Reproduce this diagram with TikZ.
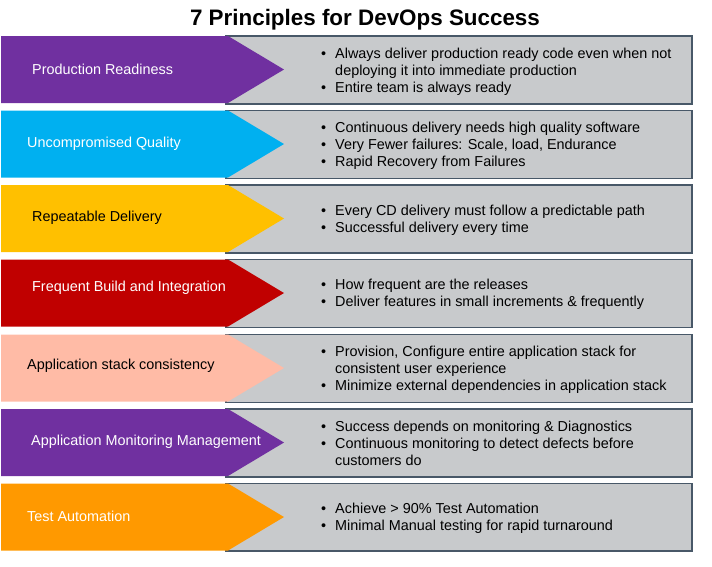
\documentclass[tikz,border=0pt]{standalone}
\usepackage{fontspec}
\setmainfont{Liberation Sans}
\definecolor{devpurple}{RGB}{112,48,160}
\definecolor{devcyan}{RGB}{0,176,240}
\definecolor{devyellow}{RGB}{255,192,0}
\definecolor{devred}{RGB}{192,0,0}
\definecolor{devsalmon}{RGB}{255,187,166}
\definecolor{devorange}{RGB}{255,153,0}
\definecolor{panelfill}{RGB}{200,202,204}
\definecolor{paneledge}{RGB}{72,88,104}
\tikzset{
  panel/.style={fill=panelfill, draw=paneledge, line width=1.3pt},
  label/.style={anchor=west, inner sep=0pt, font=\fontsize{14.4}{17}\selectfont},
  points/.style={anchor=west, inner sep=0pt, font=\fontsize{14.4}{17}\selectfont}
}
\begin{document}
\begin{tikzpicture}[x=1pt, y=-1pt]
  \useasboundingbox (0,0) rectangle (712,566);
  \node[font=\fontsize{22.4}{26}\selectfont\bfseries] (title) at (365,20) {7 Principles for DevOps Success};
  % row 1
  \draw[panel] (226,36) rectangle (692,104);
  \fill[devpurple] (1,36) -- (228,36) -- (284,69.5) -- (228,103) -- (1,103) -- cycle;
  \node[label, white] (prod) at (32,69) {Production Readiness};
  \node[points] (prodtxt) at (321,72) {\begin{tabular}{@{}l@{\hspace{9pt}}l@{}}
    \textbullet & Always deliver production ready code even when not\\
    & deploying it into immediate production\\
    \textbullet & Entire team is always ready\end{tabular}};
  % row 2
  \draw[panel] (226,110.5) rectangle (692,178.5);
  \fill[devcyan] (1,110.5) -- (228,110.5) -- (284,144) -- (228,177.5) -- (1,177.5) -- cycle;
  \node[label, white] (qual) at (27,143.5) {Uncompromised Quality};
  \node[points] (qualtxt) at (321,146) {\begin{tabular}{@{}l@{\hspace{9pt}}l@{}}
    \textbullet & Continuous delivery needs high quality software\\
    \textbullet & Very Fewer failures: Scale, load, Endurance\\
    \textbullet & Rapid Recovery from Failures\end{tabular}};
  % row 3
  \draw[panel] (226,185) rectangle (692,253);
  \fill[devyellow] (1,185) -- (228,185) -- (284,218.5) -- (228,252) -- (1,252) -- cycle;
  \node[label] (rep) at (32,218) {Repeatable Delivery};
  \node[points] (reptxt) at (321,220.5) {\begin{tabular}{@{}l@{\hspace{9pt}}l@{}}
    \textbullet & Every CD delivery must follow a predictable path\\
    \textbullet & Successful delivery every time\end{tabular}};
  % row 4
  \draw[panel] (226,259.5) rectangle (692,327.5);
  \fill[devred] (1,259.5) -- (228,259.5) -- (284,293) -- (228,326.5) -- (1,326.5) -- cycle;
  \node[label, white] (freq) at (32,287.5) {Frequent Build and Integration};
  \node[points] (freqtxt) at (321,295) {\begin{tabular}{@{}l@{\hspace{9pt}}l@{}}
    \textbullet & How frequent are the releases\\
    \textbullet & Deliver features in small increments \& frequently\end{tabular}};
  % row 5
  \draw[panel] (226,334.5) rectangle (692,402.5);
  \fill[devsalmon] (1,334.5) -- (228,334.5) -- (284,368) -- (228,401.5) -- (1,401.5) -- cycle;
  \node[label] (stack) at (27,366) {Application stack consistency};
  \node[points] (stacktxt) at (321,370) {\begin{tabular}{@{}l@{\hspace{9pt}}l@{}}
    \textbullet & Provision, Configure entire application stack for\\
    & consistent user experience\\
    \textbullet & Minimize external dependencies in application stack\end{tabular}};
  % row 6
  \draw[panel] (226,409) rectangle (692,477);
  \fill[devpurple] (1,409) -- (228,409) -- (284,442.5) -- (228,476) -- (1,476) -- cycle;
  \node[label, white] (mon) at (31,442) {Application Monitoring Management};
  \node[points] (montxt) at (321,445) {\begin{tabular}{@{}l@{\hspace{9pt}}l@{}}
    \textbullet & Success depends on monitoring \& Diagnostics\\
    \textbullet & Continuous monitoring to detect defects before\\
    & customers do\end{tabular}};
  % row 7
  \draw[panel] (226,483.5) rectangle (692,551);
  \fill[devorange] (1,483.5) -- (228,483.5) -- (284,517) -- (228,550.5) -- (1,550.5) -- cycle;
  \node[label, white] (test) at (27,516) {Test Automation};
  \node[points] (testtxt) at (321,519) {\begin{tabular}{@{}l@{\hspace{9pt}}l@{}}
    \textbullet & Achieve > 90\% Test Automation\\
    \textbullet & Minimal Manual testing for rapid turnaround\end{tabular}};
\end{tikzpicture}
\end{document}
